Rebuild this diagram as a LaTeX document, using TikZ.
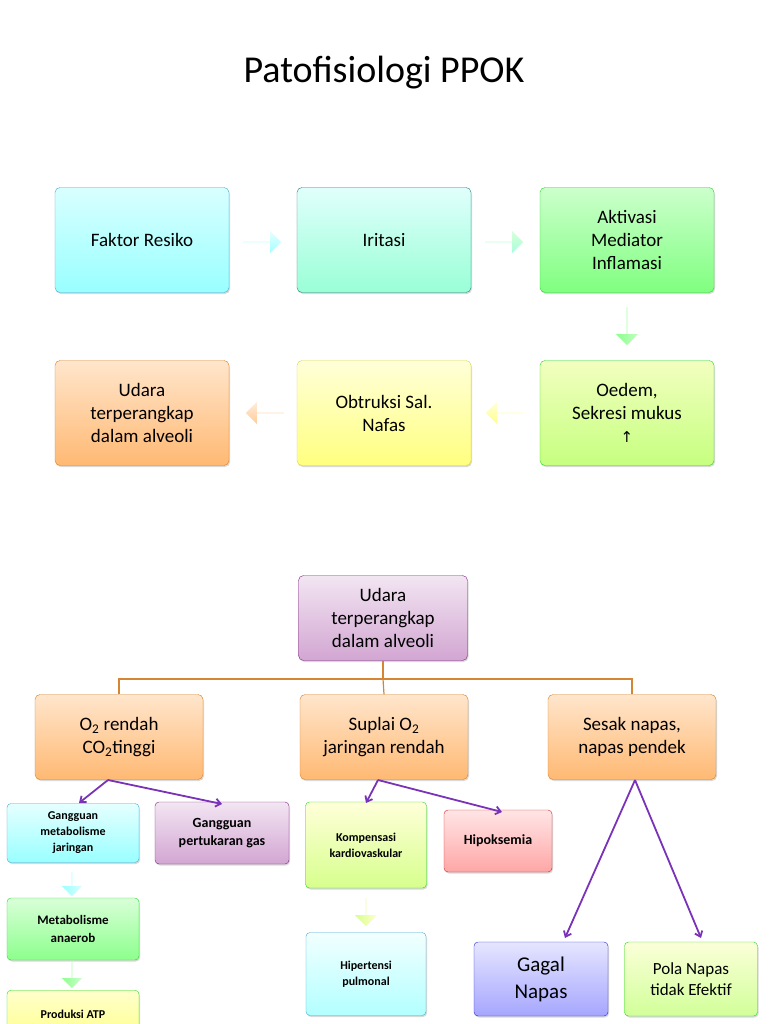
\documentclass[tikz,border=0pt]{standalone}
\usepackage{fontspec}
\setmainfont{Carlito}
\usetikzlibrary{shapes.arrows,shadows}
\begin{document}
\begin{tikzpicture}[x=1pt,y=-1pt,
  bx/.style={draw=#1!70!gray,rounded corners=5pt,align=center,inner sep=0pt,font=\fontsize{19}{23}\selectfont,
    drop shadow={shadow xshift=1pt,shadow yshift=-1.5pt,opacity=0.3}},
  sbx/.style={draw=#1!70!gray,rounded corners=4pt,align=center,inner sep=0pt,font=\bfseries\fontsize{12}{16}\selectfont,
    drop shadow={shadow xshift=1pt,shadow yshift=-1.5pt,opacity=0.3}},
  blk/.style={single arrow,single arrow head extend=5pt,minimum height=#1,inner sep=0pt,minimum width=22pt,draw=none},
  pa/.style={draw=violet!70!blue!80!white,line width=1.8pt,-{Straight Barb[length=5pt,width=8pt]}},
  ol/.style={draw=orange!80!black!80,line width=1.2pt}]
\useasboundingbox (0,0) rectangle (768,1024);
\usetikzlibrary{arrows.meta}
\node (title) at (384,73) {\fontsize{38}{44}\selectfont Patofisiologi PPOK};
% row 1
\newcommand\bxn[7]{\node[bx=#2,top color=#3!40!white,bottom color=#3!80!white,minimum width=#6,minimum height=#7] (#1) at (#4,#5) {#1text};}
\node[bx=cyan,top color=cyan!15,bottom color=cyan!40,minimum width=174,minimum height=105] (f) at (142,240) {Faktor Resiko};
\node[bx=teal,top color=green!10!cyan!12,bottom color=green!40!cyan!40,minimum width=174,minimum height=105] (ir) at (384,240) {Iritasi};
\node[bx=green,top color=green!20,bottom color=green!50,minimum width=174,minimum height=105] (ak) at (627,240) {Aktivasi\\Mediator\\Inflamasi};
\node[bx=green,top color=green!20!yellow!25,bottom color=green!45!yellow!50,minimum width=174,minimum height=105] (oe) at (627,413) {Oedem,\\Sekresi mukus\\{\fontspec{DejaVu Sans}\fontsize{15}{20}\selectfont ↑}};
\node[bx=yellow,top color=yellow!15,bottom color=yellow!50,minimum width=174,minimum height=105] (ob) at (384,413) {Obtruksi Sal.\\Nafas};
\node[bx=orange,top color=orange!20,bottom color=orange!55,minimum width=174,minimum height=105] (ud) at (142,413) {Udara\\terperangkap\\dalam alveoli};
\node[blk=38pt,top color=cyan!10,bottom color=cyan!35,shading angle=0] (a1) at (262,242) {};
\node[blk=38pt,top color=green!15,bottom color=green!40!cyan!35] (a2) at (504,242) {};
\node[blk=38pt,shape border rotate=270,left color=green!45,right color=green!25] (a3) at (627,326) {};
\node[blk=38pt,shape border rotate=180,top color=yellow!15,bottom color=yellow!45] (a4) at (505,413) {};
\node[blk=38pt,shape border rotate=180,top color=orange!15,bottom color=orange!40] (a5) at (265,413) {};
% lower
\node[bx=violet,top color=violet!10,bottom color=violet!35,minimum width=169,minimum height=85] (u2) at (383,618) {Udara\\terperangkap\\dalam alveoli};
\node[bx=orange,top color=orange!20,bottom color=orange!55,minimum width=168,minimum height=85] (o2) at (119,737) {O\textsubscript{2} rendah\\CO\textsubscript{2}tinggi};
\node[bx=orange,top color=orange!20,bottom color=orange!55,minimum width=168,minimum height=85] (sp) at (384,737) {Suplai O\textsubscript{2}\\jaringan rendah};
\node[bx=orange,top color=orange!20,bottom color=orange!55,minimum width=168,minimum height=85] (ss) at (632,737) {Sesak napas,\\napas pendek};
\coordinate (j) at (383,679);
\draw[ol] (u2.south) -- (j);
\draw[ol] (o2.north) |- (j) -| (ss.north);
\draw[ol] (j) -- (sp.north);
\node[sbx=cyan,top color=cyan!10,bottom color=cyan!40,minimum width=132,minimum height=59] (gm) at (73,833) {Gangguan\\metabolisme\\jaringan};
\node[sbx=violet,top color=violet!10,bottom color=violet!35,minimum width=134,minimum height=62,font=\bfseries\fontsize{14}{18}\selectfont] (gp) at (222,833) {Gangguan\\pertukaran gas};
\node[sbx=green,top color=yellow!15,bottom color=green!35!yellow!45,minimum width=121,minimum height=86] (kk) at (366,845) {Kompensasi\\kardiovaskular};
\node[sbx=red,top color=red!10,bottom color=red!35,minimum width=108,minimum height=62,font=\bfseries\fontsize{14}{18}\selectfont] (hk) at (498,841) {Hipoksemia};
\node[sbx=green,top color=green!15,bottom color=green!45,minimum width=132,minimum height=62,font=\bfseries\fontsize{13}{18}\selectfont] (ma) at (73,929) {Metabolisme\\anaerob};
\node[sbx=green,top color=yellow!20,bottom color=yellow!50,minimum width=132,minimum height=60,anchor=north] (pa) at (73,990) {\raisebox{12pt}{Produksi ATP}};
\node[sbx=cyan,top color=cyan!5,bottom color=cyan!30,minimum width=120,minimum height=83] (hp) at (366,974) {Hipertensi\\pulmonal};
\node[sbx=blue,top color=blue!10,bottom color=blue!35,minimum width=134,minimum height=74,font=\fontsize{21}{27}\selectfont] (gn) at (541,979) {Gagal\\Napas};
\node[sbx=green,top color=green!10!yellow!15,bottom color=green!45!yellow!40,minimum width=133,minimum height=74,font=\fontsize{17}{21}\selectfont] (pn) at (691,979) {Pola Napas\\tidak Efektif};
\coordinate (o2b) at (108,780);\coordinate (spb) at (378,780);\coordinate (ssb) at (635,780);
\draw[pa] (o2b) -- (79,803);
\draw[pa] (o2b) -- (222,804);
\draw[pa] (spb) -- (366,803);
\draw[pa] (spb) -- (502,812);
\draw[pa] (ssb) -- (565,938);
\draw[pa] (ssb) -- (701,938);
\node[blk=24pt,shape border rotate=270,minimum width=20pt,left color=cyan!40,right color=cyan!15] (b1) at (72,884) {};
\node[blk=26pt,shape border rotate=270,minimum width=20pt,left color=green!45,right color=green!20] (b2) at (72,975) {};
\node[blk=28pt,shape border rotate=270,minimum width=22pt,left color=green!35!yellow!45,right color=yellow!20] (b3) at (366,912) {};
\end{tikzpicture}
\end{document}
